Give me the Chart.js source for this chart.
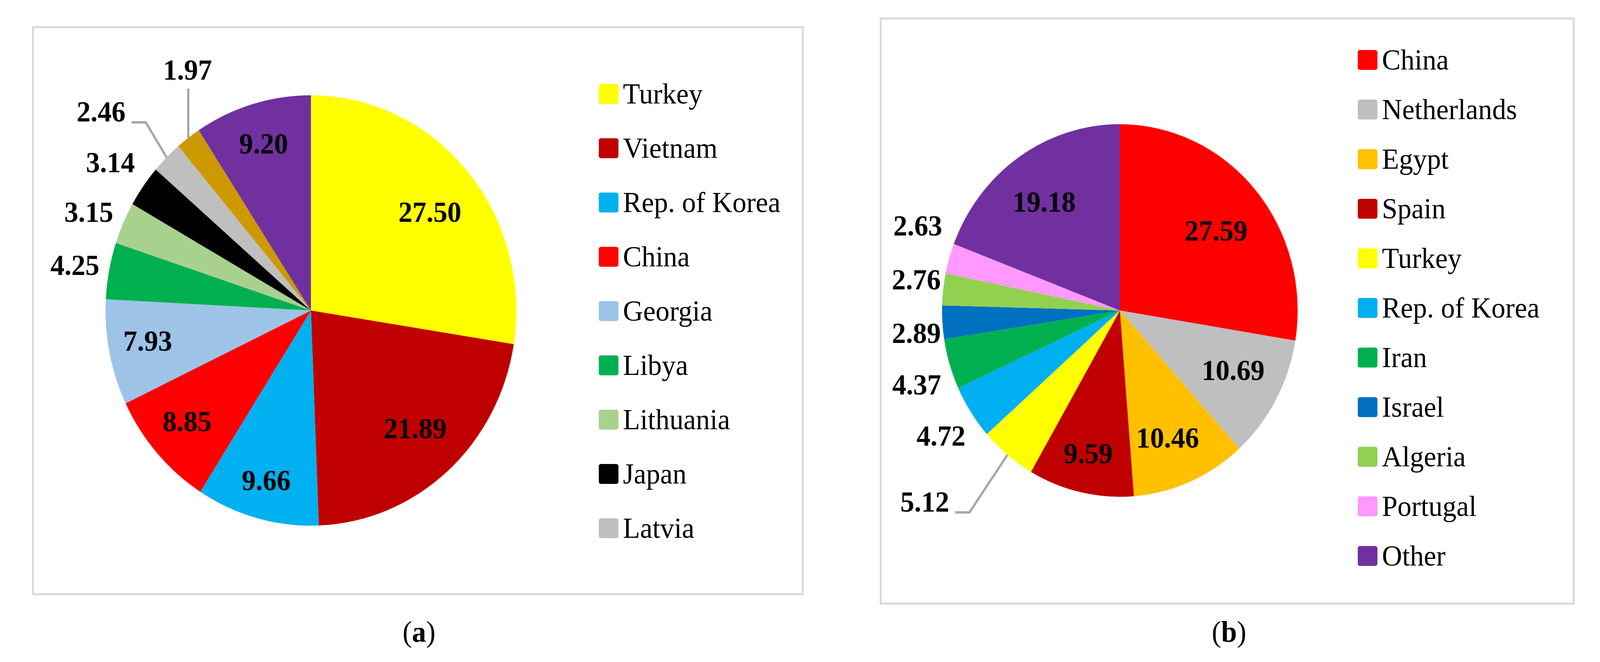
<!DOCTYPE html>
<html>
<head>
<meta charset="utf-8">
<title>Shares by country</title>
<script src="https://cdn.jsdelivr.net/npm/chart.js@4.4.1/dist/chart.umd.min.js"></script>
<style>
    html, body { margin: 0; padding: 0; background: #fff; overflow: hidden; }
    #page { position: relative; width: 4292px; height: 1695px; overflow: hidden; transform-origin: 0 0; font-family: 'Liberation Serif', 'Times New Roman', serif; color: #000; }
    .frame { position: absolute; border: 5px solid #D9D9D9; box-sizing: border-box; }
    canvas { position: absolute; top: 0; }
    .legend-box { position: absolute; width: 53px; height: 51px; border-radius: 6px; }
    .legend-text { position: absolute; height: 90px; line-height: 90px; font-size: 75px; white-space: nowrap; }
    .caption { position: absolute; width: 400px; text-align: center; height: 90px; line-height: 90px; font-size: 76px; }
    .caption b { font-weight: bold; }
</style>
</head>
<body>
<div id="page">
    <div class="frame" style="left:86px;top:67px;width:2070px;height:1457px;"></div>
    <div class="frame" style="left:2360px;top:45px;width:1864px;height:1503px;"></div>
    <canvas id="chart-a" width="2258" height="1695" style="left:0;width:2258px;height:1695px;"></canvas>
    <canvas id="chart-b" width="2034" height="1695" style="left:2258px;width:2034px;height:1695px;"></canvas>
    <div id="legend-a"></div>
    <div id="legend-b"></div>
    <div class="caption" style="left:924px;top:1572px;">(<b>a</b>)</div>
    <div class="caption" style="left:3097px;top:1572px;">(<b>b</b>)</div>
</div>

<script>
// ========================================
// DATA
// ========================================

// (a) - the last two slices are not listed in the original legend
const leftCountries = ['Turkey', 'Vietnam', 'Rep. of Korea', 'China', 'Georgia', 'Libya',
    'Lithuania', 'Japan', 'Latvia', 'Unlisted', 'Other'];
const leftShares = [27.50, 21.89, 9.66, 8.85, 7.93, 4.25, 3.15, 3.14, 2.46, 1.97, 9.20];
const leftLegendCount = 9;

// (b)
const rightCountries = ['China', 'Netherlands', 'Egypt', 'Spain', 'Turkey', 'Rep. of Korea',
    'Iran', 'Israel', 'Algeria', 'Portugal', 'Other'];
const rightShares = [27.59, 10.69, 10.46, 9.59, 5.12, 4.72, 4.37, 2.89, 2.76, 2.63, 19.18];

// ========================================
// STYLE
// ========================================

const leftColors = ['#FFFF00', '#C00000', '#00B0F0', '#FF0000', '#9DC3E6', '#00B050',
    '#A9D18E', '#000000', '#BFBFBF', '#CC9900', '#7030A0'];
const rightColors = ['#FF0000', '#BFBFBF', '#FFC000', '#C00000', '#FFFF00', '#00B0F0',
    '#00B050', '#0070C0', '#92D050', '#FF99FF', '#7030A0'];

// label placement, relative to each slice: rf = distance / radius, da = angle shift (deg)
const leftLabelPlacement = [
    { rf: 0.738, da: 2.2 }, { rf: 0.747, da: -1.2 }, { rf: 0.819, da: 0.2 },
    { rf: 0.793, da: 0.95 }, { rf: 0.807, da: 1.2 }, { rf: 1.168, da: -0.26 },
    { rf: 1.174, da: -1.04 }, { rf: 1.194, da: -0.12 },
    { rf: 1.377, da: -3.24, leader: 'elbow' }, { rf: 1.269, da: 8.42, leader: 'drop' },
    { rf: 0.808, da: 0 }
];
const rightLabelPlacement = [
    { rf: 0.690, da: 2.0 }, { rf: 0.713, da: -1.85 }, { rf: 0.734, da: 1.92 },
    { rf: 0.788, da: 0.34 }, { rf: 1.503, da: 7.67, leader: 'elbow' },
    { rf: 1.210, da: -0.69 }, { rf: 1.210, da: -2.5 }, { rf: 1.151, da: -2.41 },
    { rf: 1.157, da: 1.71 }, { rf: 1.224, da: 5.6 }, { rf: 0.722, da: -1.62 }
];

const LABEL_FONT = 'bold 75px "Liberation Serif", "Times New Roman", serif';
const LEADER_COLOR = '#A6A6A6';

// ========================================
// SLICE LABEL PLUGIN
// ========================================

const sliceLabels = {
    id: 'sliceLabels',
    afterDatasetsDraw(chart, args, opts) {
        const ctx = chart.ctx;
        const meta = chart.getDatasetMeta(0);
        const values = chart.data.datasets[0].data;
        ctx.save();
        ctx.font = LABEL_FONT;
        ctx.fillStyle = '#000';
        ctx.textAlign = 'center';
        ctx.textBaseline = 'alphabetic';
        meta.data.forEach((arc, i) => {
            const p = arc.getProps(['x', 'y', 'startAngle', 'endAngle', 'outerRadius'], true);
            const place = opts.placement[i] || { rf: 0.75, da: 0 };
            const mid = (p.startAngle + p.endAngle) / 2;
            const a = mid + place.da * Math.PI / 180;
            const lx = p.x + Math.cos(a) * p.outerRadius * place.rf;
            const ly = p.y + Math.sin(a) * p.outerRadius * place.rf;
            const text = values[i].toFixed(2);
            ctx.fillText(text, lx, ly + 25);

            if (place.leader) {
                // leader line to the slice edge at its mid angle
                const ex = p.x + Math.cos(mid) * p.outerRadius;
                const ey = p.y + Math.sin(mid) * p.outerRadius;
                ctx.strokeStyle = LEADER_COLOR;
                ctx.lineWidth = 6;
                ctx.beginPath();
                if (place.leader === 'drop') {
                    ctx.moveTo(ex, ly + 48);
                    ctx.lineTo(ex, ey);
                } else {
                    const hw = ctx.measureText(text).width / 2;
                    const dir = ex > lx ? 1 : -1;
                    const sx = lx + dir * (hw + 16);
                    ctx.moveTo(sx, ly + 27);
                    ctx.lineTo(sx + dir * 38, ly + 27);
                    ctx.lineTo(ex, ey);
                }
                ctx.stroke();
            }
        });
        ctx.restore();
    }
};

// ========================================
// CHARTS
// ========================================

function makePie(canvasId, labels, values, colors, placement, padding) {
    const ctx = document.getElementById(canvasId).getContext('2d');
    return new Chart(ctx, {
        type: 'pie',
        data: {
            labels: labels,
            datasets: [{
                data: values,
                backgroundColor: colors,
                borderWidth: 0
            }]
        },
        options: {
            responsive: false,
            animation: false,
            devicePixelRatio: 1,
            events: [],
            layout: { padding: padding },
            plugins: {
                legend: { display: false },
                tooltip: { enabled: false },
                sliceLabels: { placement: placement }
            }
        },
        plugins: [sliceLabels]
    });
}

makePie('chart-a', leftCountries, leftShares, leftColors, leftLabelPlacement,
    { left: 283, top: 244, right: 873, bottom: 349 });
makePie('chart-b', rightCountries, rightShares, rightColors, rightLabelPlacement,
    { left: 269, top: 318, right: 811, bottom: 423 });

// --- Legends ---
function renderLegend(containerId, labels, colors, count, boxLeft, textLeft, firstCenter, step) {
    const box = document.getElementById(containerId);
    box.innerHTML = '';
    for (let i = 0; i < count; i++) {
        const cy = firstCenter + i * step;
        const swatch = document.createElement('div');
        swatch.className = 'legend-box';
        swatch.style.left = boxLeft + 'px';
        swatch.style.top = (cy - 25) + 'px';
        swatch.style.background = colors[i];
        box.appendChild(swatch);

        const txt = document.createElement('div');
        txt.className = 'legend-text';
        txt.style.left = textLeft + 'px';
        txt.style.top = (cy - 45) + 'px';
        txt.textContent = labels[i];
        box.appendChild(txt);
    }
}

renderLegend('legend-a', leftCountries, leftColors, leftLegendCount, 1606, 1671, 240, 139);
renderLegend('legend-b', rightCountries, rightColors, rightCountries.length, 3642, 3707, 153, 127);

// the window can be narrower than the figure: squeeze the whole page into it
const page = document.getElementById('page');
const sx = window.innerWidth / 4292;
const sy = window.innerHeight / 1695;
if (sx !== 1 || sy !== 1) page.style.transform = 'scale(' + sx + ',' + sy + ')';
</script>
</body>
</html>
